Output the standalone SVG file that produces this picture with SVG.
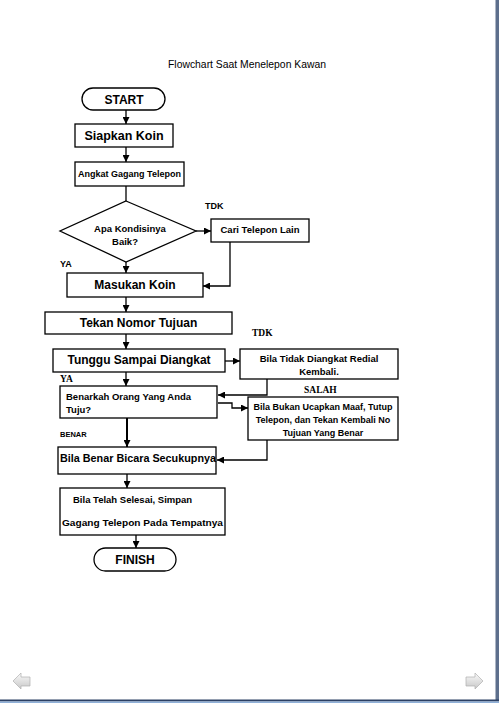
<svg xmlns="http://www.w3.org/2000/svg" width="499" height="703" viewBox="0 0 499 703">
<defs>
<marker id="ah" viewBox="0 0 10 10" refX="10" refY="5" markerWidth="7" markerHeight="7" markerUnits="userSpaceOnUse" orient="auto">
<path d="M0,0 L10,5 L0,10 z" fill="#000"/>
</marker>
<linearGradient id="ag" x1="0" y1="0" x2="0" y2="1">
<stop offset="0" stop-color="#fafafa"/>
<stop offset="1" stop-color="#c8c8c8"/>
</linearGradient>
</defs>
<style>
.b{fill:#fff;stroke:#000;stroke-width:1.3}
.t{font-family:"Liberation Sans",Arial,sans-serif;font-weight:bold;fill:#000}
.s{font-family:"Liberation Serif","Times New Roman",serif;font-weight:bold;fill:#000}
.c{fill:none;stroke:#000;stroke-width:1.3}
</style>
<rect width="499" height="703" fill="#fff"/>
<rect x="495.5" y="0" width="3.5" height="701" fill="#5d6f8c"/>
<rect x="0" y="699.5" width="499" height="2" fill="#2b3f63"/>
<rect x="0" y="701.5" width="499" height="1.5" fill="#8fb0d8"/>
<polygon points="13,681 21,673 21,677 30,677 30,686 21,686 21,689" fill="url(#ag)" stroke="#b0b0b0" stroke-width="0.7"/>
<polygon points="483,681 475,673 475,677 466,677 466,686 475,686 475,689" fill="url(#ag)" stroke="#b0b0b0" stroke-width="0.7"/>
<text x="168" y="68" font-family="Liberation Sans,Arial,sans-serif" font-size="11" textLength="158" lengthAdjust="spacingAndGlyphs" fill="#000">Flowchart Saat Menelepon Kawan</text>

<g id="connectors">
<line class="c" x1="126" y1="110" x2="126" y2="124" marker-end="url(#ah)"/>
<line class="c" x1="126" y1="147" x2="126" y2="162" marker-end="url(#ah)"/>
<line class="c" x1="126" y1="186" x2="126" y2="201"/>
<line class="c" x1="196" y1="231" x2="211" y2="231" marker-end="url(#ah)"/>
<polyline class="c" points="230,242 230,286 203,286" marker-end="url(#ah)"/>
<line class="c" x1="126" y1="262" x2="126" y2="273" marker-end="url(#ah)"/>
<line class="c" x1="126" y1="297" x2="126" y2="312" marker-end="url(#ah)"/>
<line class="c" x1="126" y1="334" x2="126" y2="349" marker-end="url(#ah)"/>
<line class="c" x1="225" y1="361" x2="240" y2="361" marker-end="url(#ah)"/>
<line class="c" x1="126" y1="372" x2="126" y2="386" marker-end="url(#ah)"/>
<polyline class="c" points="267,379 267,395 218,395" marker-end="url(#ah)"/>
<polyline class="c" points="218,403 232,403 232,408 248,408" marker-end="url(#ah)"/>
<line x1="127" y1="418" x2="127" y2="447" stroke="#000" stroke-width="2" marker-end="url(#ah)"/>
<polyline class="c" points="267,440 267,460 217,460" marker-end="url(#ah)"/>
<line class="c" x1="127" y1="474" x2="127" y2="488" marker-end="url(#ah)"/>
<line class="c" x1="136" y1="535" x2="136" y2="548" marker-end="url(#ah)"/>
</g>

<g id="start">
<rect class="b" x="82" y="88" width="83" height="22" rx="11"/>
<text class="t" x="124" y="104" font-size="12" text-anchor="middle">START</text>
</g>
<g id="siapkan">
<rect class="b" x="75" y="124" width="98" height="23"/>
<text class="t" x="124" y="140" font-size="12.5" text-anchor="middle">Siapkan Koin</text>
</g>
<g id="angkat">
<rect class="b" x="75" y="162" width="109" height="24"/>
<text class="t" x="129.5" y="177" font-size="9" text-anchor="middle">Angkat Gagang Telepon</text>
</g>
<g id="kondisi">
<polygon class="b" points="126,201 196,231 126,262 60,231"/>
<text class="t" x="130" y="232" font-size="9.5" text-anchor="middle">Apa Kondisinya</text>
<text class="t" x="125" y="245" font-size="9.5" text-anchor="middle">Baik?</text>
</g>
<g id="cari">
<rect class="b" x="211" y="219" width="98" height="23"/>
<text class="t" x="260" y="233" font-size="9.5" text-anchor="middle">Cari Telepon Lain</text>
</g>
<g id="masukan">
<rect class="b" x="67" y="273" width="136" height="24"/>
<text class="t" x="135" y="289" font-size="12" text-anchor="middle">Masukan Koin</text>
</g>
<g id="tekan">
<rect class="b" x="45" y="312" width="187" height="22"/>
<text class="t" x="138.5" y="327" font-size="12" text-anchor="middle">Tekan Nomor Tujuan</text>
</g>
<g id="tunggu">
<rect class="b" x="53" y="349" width="172" height="23"/>
<text class="t" x="139" y="364" font-size="12" text-anchor="middle">Tunggu  Sampai Diangkat</text>
</g>
<g id="redial">
<rect class="b" x="240" y="349" width="158" height="30"/>
<text class="t" x="319" y="362" font-size="9.5" text-anchor="middle">Bila Tidak Diangkat Redial</text>
<text class="t" x="319" y="375" font-size="9.5" text-anchor="middle">Kembali.</text>
</g>
<g id="benarkah">
<rect class="b" x="60" y="386" width="157" height="32"/>
<text class="t" x="66" y="400" font-size="9.5">Benarkah Orang Yang Anda</text>
<text class="t" x="66" y="413" font-size="9.5">Tuju?</text>
</g>
<g id="bilabukan">
<rect class="b" x="248" y="397" width="150" height="43"/>
<text class="t" x="323" y="410" font-size="9" text-anchor="middle">Bila Bukan Ucapkan Maaf, Tutup</text>
<text class="t" x="323" y="423" font-size="9" text-anchor="middle">Telepon, dan Tekan Kembali No</text>
<text class="t" x="323" y="436" font-size="9" text-anchor="middle">Tujuan Yang Benar</text>
</g>
<g id="bilabenar">
<rect class="b" x="58" y="447" width="158" height="27"/>
<text class="t" x="60" y="462" font-size="11" font-weight="bold" textLength="156" lengthAdjust="spacingAndGlyphs">Bila Benar Bicara  Secukupnya</text>
</g>
<g id="selesai">
<rect class="b" x="60" y="488" width="165" height="47"/>
<text class="t" x="73" y="503" font-size="9.5">Bila Telah Selesai, Simpan</text>
<text class="t" x="62" y="526" font-size="9.5" textLength="161" lengthAdjust="spacingAndGlyphs">Gagang Telepon Pada Tempatnya</text>
</g>
<g id="finish">
<rect class="b" x="94" y="548" width="82" height="23" rx="11.5"/>
<text class="t" x="135" y="564" font-size="12" text-anchor="middle">FINISH</text>
</g>

<g id="labels">
<text class="t" x="205" y="209" font-size="9">TDK</text>
<text class="t" x="60" y="267" font-size="9">YA</text>
<text class="s" x="252" y="336" font-size="9.5">TDK</text>
<text class="s" x="60" y="382" font-size="9.5">YA</text>
<text class="s" x="304" y="393" font-size="9.5">SALAH</text>
<text class="t" x="60" y="437" font-size="7.5">BENAR</text>
</g>
</svg>
